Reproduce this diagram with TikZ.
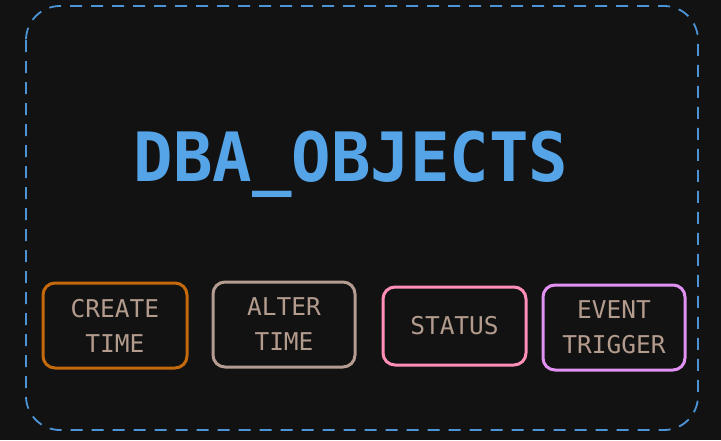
\documentclass[tikz,border=0pt]{standalone}
\usepackage{fontspec}
\setmainfont{DejaVu Sans Mono}
\begin{document}
\begin{tikzpicture}[x=1pt,y=-1pt,
  labelbox/.style={draw, line width=3pt, rounded corners=12pt, text=labeltext,
    align=center, font=\fontsize{24.5}{35}\selectfont, inner sep=0pt},
  frame/.style={draw=framecol, line width=1.8pt, dash pattern=on 12pt off 9pt, rounded corners=34pt}]
\definecolor{bg}{HTML}{121212}
\definecolor{framecol}{HTML}{4D94D6}
\definecolor{titlecol}{HTML}{56A4E8}
\definecolor{labeltext}{HTML}{B39B8D}
\definecolor{cA}{HTML}{C46A0C}
\definecolor{cB}{HTML}{B49C92}
\definecolor{cC}{HTML}{FF8FB8}
\definecolor{cD}{HTML}{E191F2}
\fill[bg] (0,0) rectangle (721,440);
\useasboundingbox (0,0) rectangle (721,440);
\draw[frame] (26,6) rectangle (698,430);
\node[text=titlecol, font=\bfseries\fontsize{68}{70}\selectfont, xscale=0.965] (title) at (351,164) {DBA\_OBJECTS};
\node[labelbox, draw=cA, minimum width=144pt, minimum height=85pt] (create) at (115,325.5) {CREATE\\TIME};
\node[labelbox, draw=cB, minimum width=142pt, minimum height=85pt] (alter) at (284,324.5) {ALTER\\TIME};
\node[labelbox, draw=cC, minimum width=143pt, minimum height=78pt] (status) at (454.5,326) {STATUS};
\node[labelbox, draw=cD, minimum width=142pt, minimum height=85pt] (event) at (614,327.5) {EVENT\\TRIGGER};
\end{tikzpicture}
\end{document}
